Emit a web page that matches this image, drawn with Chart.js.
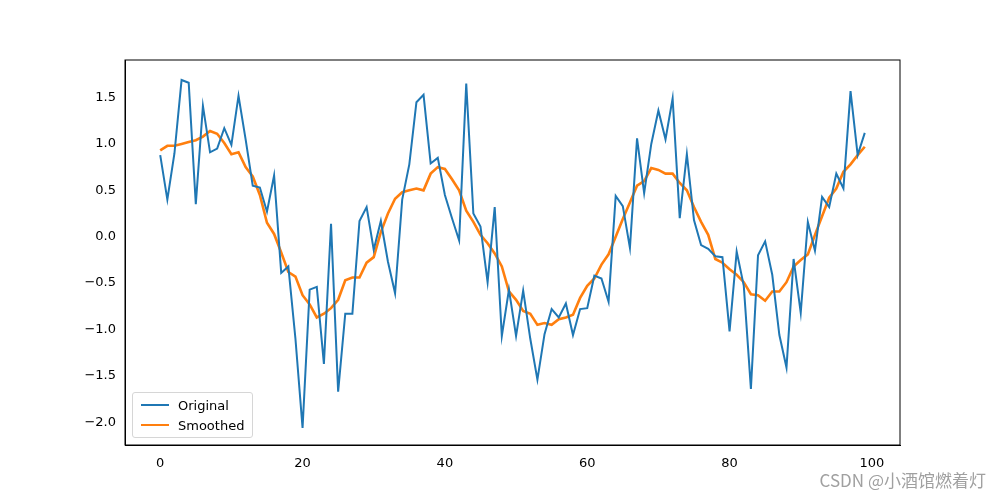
<!DOCTYPE html>
<html><head><meta charset="utf-8">
<script src="https://cdn.jsdelivr.net/npm/chart.js@4"></script>
<style>
body{margin:0;background:#fff;}
#wrap{position:relative;width:1000px;height:500px;}
#legend{position:absolute;left:132px;top:392px;width:119px;height:44px;border:1px solid #d6d6d6;border-radius:3px;background:rgba(255,255,255,0.8);font:13px "DejaVu Sans";color:#000;}
.row{position:absolute;left:8px;height:16px;display:flex;align-items:center;}
.sw{width:28px;margin-right:9px;}
#wm{position:absolute;right:14px;bottom:8px;font:17px "Noto Sans CJK SC";color:#a0a0a0;}
</style></head><body>
<div id="wrap"><canvas id="c" width="1000" height="500"></canvas>
<div id="legend">
<div class="row" style="top:4px"><div class="sw" style="border-top:2px solid #1f77b4"></div>Original</div>
<div class="row" style="top:24px"><div class="sw" style="border-top:2.5px solid #ff7f0e"></div>Smoothed</div>
</div>
<div id="wm">CSDN @小酒馆燃着灯</div></div>
<script>
const original=[0.88,0.40,0.90,1.69,1.66,0.35,1.41,0.91,0.95,1.17,0.99,1.52,1.05,0.55,0.53,0.27,0.66,-0.39,-0.32,-1.10,-2.06,-0.57,-0.54,-1.37,0.14,-1.67,-0.83,-0.83,0.17,0.32,-0.14,0.17,-0.27,-0.61,0.40,0.78,1.45,1.53,0.79,0.85,0.45,0.20,-0.04,1.65,0.25,0.11,-0.49,0.32,-1.07,-0.57,-1.07,-0.58,-1.10,-1.54,-1.05,-0.78,-0.87,-0.72,-1.06,-0.78,-0.77,-0.42,-0.45,-0.70,0.44,0.33,-0.12,1.06,0.47,1.00,1.36,1.05,1.49,0.20,0.89,0.18,-0.09,-0.13,-0.21,-0.22,-1.02,-0.16,-0.53,-1.64,-0.20,-0.05,-0.41,-1.06,-1.41,-0.24,-0.82,0.16,-0.15,0.43,0.32,0.68,0.52,1.57,0.88,1.12];
const smoothed=[0.93,0.98,0.98,1.00,1.02,1.04,1.08,1.14,1.11,1.01,0.89,0.91,0.75,0.65,0.45,0.15,0.03,-0.17,-0.38,-0.43,-0.63,-0.73,-0.87,-0.83,-0.77,-0.68,-0.47,-0.44,-0.44,-0.28,-0.22,0.05,0.25,0.41,0.48,0.50,0.52,0.50,0.68,0.75,0.73,0.62,0.50,0.28,0.16,0.02,-0.07,-0.18,-0.32,-0.59,-0.68,-0.80,-0.83,-0.95,-0.93,-0.95,-0.89,-0.87,-0.84,-0.66,-0.53,-0.45,-0.30,-0.19,0.00,0.19,0.37,0.55,0.60,0.74,0.72,0.68,0.68,0.58,0.50,0.32,0.16,0.02,-0.24,-0.28,-0.35,-0.41,-0.49,-0.62,-0.63,-0.69,-0.59,-0.59,-0.49,-0.32,-0.25,-0.19,0.02,0.22,0.42,0.52,0.70,0.78,0.88,0.97];
const xTicks=[0,20,40,60,80,100];
const yTicks=[-2.0,-1.5,-1.0,-0.5,0.0,0.5,1.0,1.5];
const pts=a=>a.map((v,i)=>({x:i,y:v}));
const fmt=v=>(v<0?'\u2212':'')+Math.abs(v).toFixed(1);
new Chart(document.getElementById('c'),{type:'line',
data:{datasets:[
{label:'Original',data:pts(original),borderColor:'#1f77b4',borderWidth:2,pointRadius:0,tension:0},
{label:'Smoothed',data:pts(smoothed),borderColor:'#ff7f0e',borderWidth:2.6,pointRadius:0,tension:0}]},
options:{responsive:false,animation:false,layout:{padding:{top:60,right:100,left:0,bottom:0}},
plugins:{legend:{display:false},tooltip:{enabled:false}},
scales:{
x:{type:'linear',min:-4.95,max:103.95,afterBuildTicks:s=>{s.ticks=xTicks.map(v=>({value:v}));},
afterFit:s=>{s.height=55;},
grid:{display:false,drawTicks:true,tickLength:5,tickColor:'#000'},border:{color:'#000',width:1},
ticks:{color:'#000',font:{family:'DejaVu Sans',size:13},padding:6,maxRotation:0,callback:v=>String(v)}},
y:{min:-2.245,max:1.905,afterBuildTicks:s=>{s.ticks=yTicks.map(v=>({value:v}));},
afterFit:s=>{s.width=125;},
grid:{display:false,drawTicks:true,tickLength:5,tickColor:'#000'},border:{color:'#000',width:1},
ticks:{color:'#000',font:{family:'DejaVu Sans',size:13},padding:4,callback:v=>fmt(v)}}
}},
plugins:[{id:'frame',afterDraw(c){const a=c.chartArea,g=c.ctx;g.save();g.strokeStyle='#000';g.lineWidth=1;g.strokeRect(a.left,a.top,a.right-a.left,a.bottom-a.top);g.restore();}}]
});
</script></body></html>
